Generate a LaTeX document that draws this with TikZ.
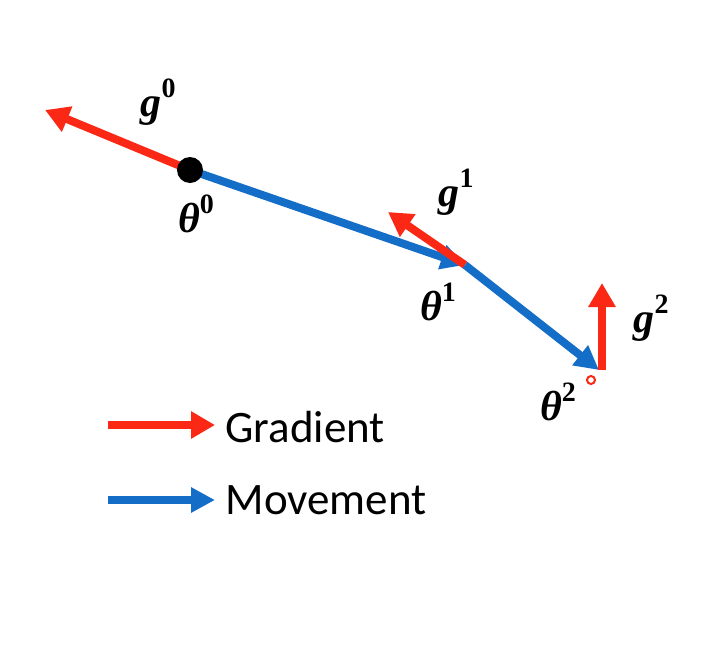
\documentclass[tikz,border=0pt]{standalone}
\usepackage{fontspec}
\setmainfont{Carlito}
\newfontfamily\mathlike{Liberation Serif}
\usetikzlibrary{arrows.meta}
\definecolor{gred}{RGB}{250,40,20}
\definecolor{mblue}{RGB}{20,110,200}
\newcommand{\sym}[2]{{\mathlike\bfseries\itshape #1\raisebox{0.45em}{\fontsize{28}{30}\selectfont\upshape #2}}}
\tikzset{
  grad/.style={draw=gred,line width=8pt,-{Triangle[length=24pt,width=26pt]}},
  move/.style={draw=mblue,line width=8pt,-{Triangle[length=24pt,width=24pt]}},
  lbl/.style={font=\fontsize{42}{44}\selectfont},
  leg/.style={font=\fontsize{45}{48}\selectfont,anchor=west}
}
\begin{document}
\begin{tikzpicture}[x=1pt,y=-1pt]
\useasboundingbox (0,0) rectangle (718,670);
\coordinate (t0) at (190,170);
\coordinate (t1) at (465,265);
\coordinate (t2) at (599,370);
\coordinate (g0) at (45,110);
\coordinate (g1) at (388,212);
\coordinate (g2) at (602,283);
\draw[grad] (t0) -- (g0);
\draw[move] (t0) -- (t1);
\draw[grad] (t1) -- (g1);
\draw[move] (t1) -- (t2);
\draw[grad] ([xshift=3pt]t2) -- (g2);
\fill (t0) circle (13pt);
\draw[gred,line width=2pt] (591,380) circle (4pt);
\node[lbl] (lg0) at (158,102) {\sym{g}{0}};
\node[lbl] (lt0) at (196,214) {\sym{θ}{0}};
\node[lbl] (lg1) at (456,192) {\sym{g}{1}};
\node[lbl] (lt1) at (438,302) {\sym{θ}{1}};
\node[lbl] (lg2) at (651,318) {\sym{g}{2}};
\node[lbl] (lt2) at (558,402) {\sym{θ}{2}};
\coordinate (ra) at (108,425); \coordinate (rb) at (215,425);
\coordinate (ba) at (108,500); \coordinate (bb) at (215,500);
\draw[grad] (ra) -- (rb);
\draw[move] (ba) -- (bb);
\node[leg] (lgr) at (222,427) {Gradient};
\node[leg] (lmv) at (222,500) {Movement};
\end{tikzpicture}
\end{document}
